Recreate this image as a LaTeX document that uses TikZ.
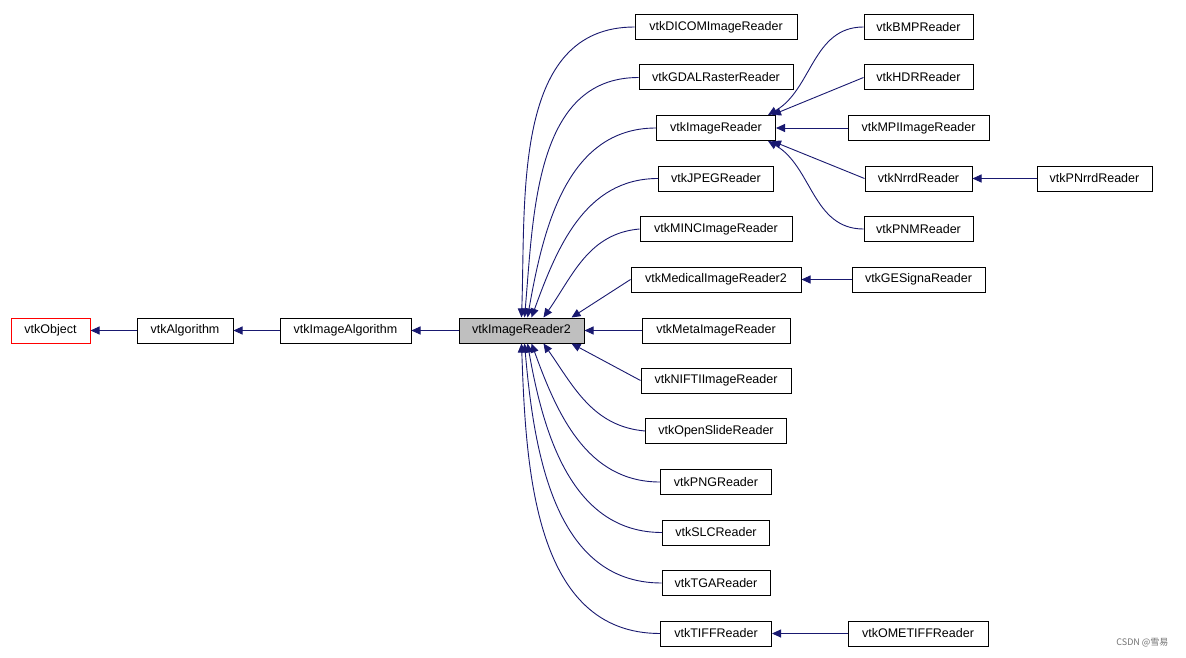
\documentclass[tikz,border=0pt]{standalone}
\usepackage{fontspec}
\setmainfont{Liberation Sans}
\newfontfamily\cjk{Noto Sans CJK SC}
\usetikzlibrary{arrows.meta}
\definecolor{navy}{HTML}{191970}
\begin{document}
\begin{tikzpicture}[x=1pt,y=-1pt,
 box/.style={draw=black,line width=1pt,minimum height=25pt,inner sep=0pt,font=\fontsize{12.5}{14}\selectfont},
 arr/.style={draw=navy,line width=0.9pt,-{Triangle[length=9pt,width=8pt]}}]
\useasboundingbox[fill=white] (0,0) rectangle (1186,658);
\node[box,draw=red,minimum width=79pt] (obj) at (50.5,330.5) {vtkObject};
\node[box,minimum width=96pt] (alg) at (185,330.5) {vtkAlgorithm};
\node[box,minimum width=131pt] (ia) at (345.5,330.5) {vtkImageAlgorithm};
\node[box,fill=black!25,minimum width=125pt] (r2) at (521.5,330.5) {vtkImageReader2};
\foreach \n/\t/\w/\y in {dicom/vtkDICOMImageReader/162/27, gdal/vtkGDALRasterReader/154/77.5, ir/vtkImageReader/119/128, jpeg/vtkJPEGReader/115/178.5, minc/vtkMINCImageReader/152/229, med/vtkMedicalImageReader2/170/279.5, meta/vtkMetaImageReader/148/330.5, nifti/vtkNIFTIImageReader/150/380.5, open/vtkOpenSlideReader/141/431, png/vtkPNGReader/111/482, slc/vtkSLCReader/107/532.5, tga/vtkTGAReader/108/583, tiff/vtkTIFFReader/111/633.5}
  \node[box,minimum width=\w pt] (\n) at (716,\y) {\t};
\node[box,minimum width=109pt] (bmp) at (918.5,27) {vtkBMPReader};
\node[box,minimum width=109pt] (hdr) at (918.5,77.5) {vtkHDRReader};
\node[box,minimum width=141pt] (mpi) at (918.5,128) {vtkMPIImageReader};
\node[box,minimum width=107pt] (nrrd) at (918.5,178.5) {vtkNrrdReader};
\node[box,minimum width=109pt] (pnm) at (918.5,229) {vtkPNMReader};
\node[box,minimum width=133pt] (ges) at (918.5,279.5) {vtkGESignaReader};
\node[box,minimum width=140pt] (ome) at (918,633.5) {vtkOMETIFFReader};
\node[box,minimum width=115pt] (pnrrd) at (1094.5,178.5) {vtkPNrrdReader};
\node[text=black!55,font=\cjk\fontsize{9}{10}\selectfont,anchor=east] (wm) at (1172,643) {CSDN @雪易};
\draw[arr] (alg) -- (obj);
\draw[arr] (ia) -- (alg);
\draw[arr] (r2) -- (ia);
\draw[arr] (dicom.west) to[out=180,in=88] (r2.north);
\draw[arr] (gdal.west) to[out=180,in=85] ([xshift=3pt]r2.north);
\draw[arr] (ir.west) to[out=180,in=80] ([xshift=6pt]r2.north);
\draw[arr] (jpeg.west) to[out=180,in=70] ([xshift=10pt]r2.north);
\draw[arr] (minc.west) to[out=185,in=55] ([xshift=22pt]r2.north);
\draw[arr] (med.west) -- ([xshift=50pt]r2.north);
\draw[arr] (meta) -- (r2);
\draw[arr] (nifti.west) -- ([xshift=50pt]r2.south);
\draw[arr] (open.west) to[out=175,in=-55] ([xshift=22pt]r2.south);
\draw[arr] (png.west) to[out=180,in=-70] ([xshift=10pt]r2.south);
\draw[arr] (slc.west) to[out=180,in=-80] ([xshift=6pt]r2.south);
\draw[arr] (tga.west) to[out=180,in=-85] ([xshift=3pt]r2.south);
\draw[arr] (tiff.west) to[out=180,in=-88] (r2.south);
\draw[arr] (bmp.west) to[out=180,in=30] ([xshift=-8pt]ir.north east);
\draw[arr] (hdr.west) -- ([xshift=-4pt]ir.north east);
\draw[arr] (mpi) -- (ir);
\draw[arr] (nrrd.west) -- ([xshift=-4pt]ir.south east);
\draw[arr] (pnm.west) to[out=180,in=-30] ([xshift=-8pt]ir.south east);
\draw[arr] (ges) -- (med);
\draw[arr] (ome) -- (tiff);
\draw[arr] (pnrrd) -- (nrrd);
\end{tikzpicture}
\end{document}
